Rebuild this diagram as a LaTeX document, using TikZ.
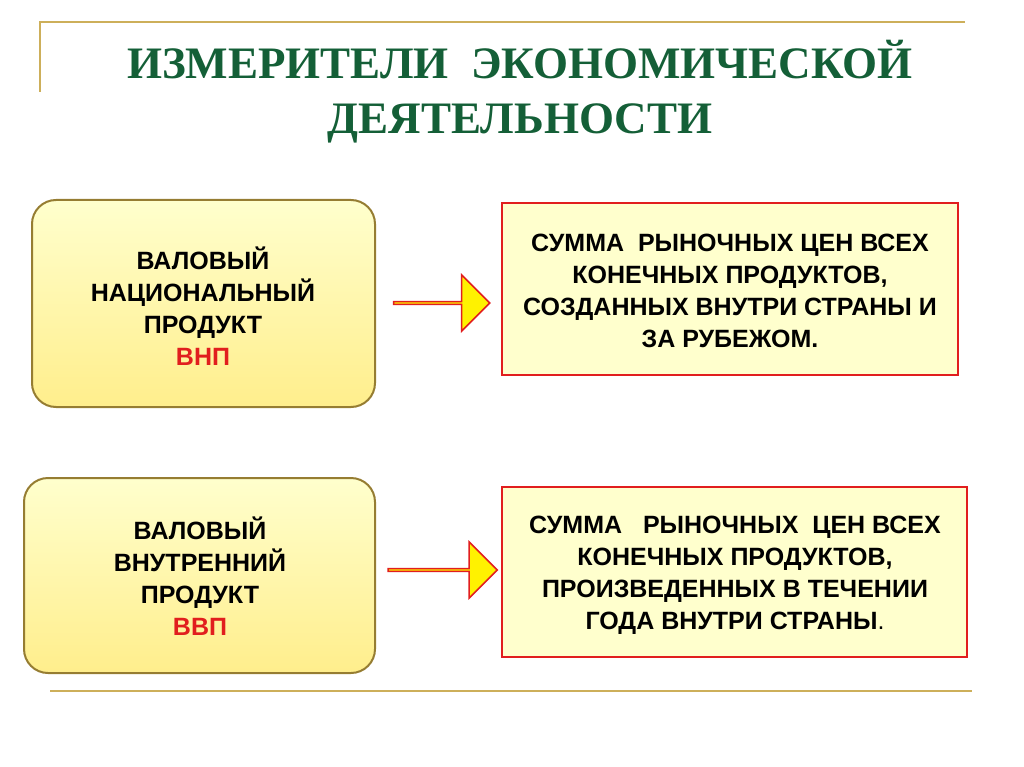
\documentclass[tikz,border=0pt]{standalone}
\usepackage{fontspec}
\setmainfont{Liberation Sans}
\newfontfamily\titlefont{Liberation Serif}
\usetikzlibrary{shapes.arrows}
\definecolor{goldline}{RGB}{205,175,90}
\definecolor{titlegreen}{RGB}{20,95,55}
\definecolor{boxedge}{RGB}{150,125,50}
\definecolor{boxred}{RGB}{225,30,30}
\definecolor{paleyellow}{RGB}{255,255,205}
\definecolor{deepyellow}{RGB}{255,238,140}
\tikzset{
  namebox/.style={draw=boxedge, line width=2pt, rounded corners=24pt,
    top color=paleyellow, bottom color=deepyellow},
  defbox/.style={draw=boxred, line width=2pt, fill=paleyellow},
  boxtext/.style={font=\fontsize{25}{32}\selectfont\bfseries, align=center},
  fatarrow/.style={single arrow, draw=boxred, fill=yellow, line width=1.5pt,
    single arrow head extend=14pt, minimum height=96pt, minimum width=56pt, inner sep=0pt}
}
\begin{document}
\begin{tikzpicture}[x=1pt,y=-1pt]
    \useasboundingbox (0,0) rectangle (1024,767);
    % frame lines
    \draw[goldline, line width=1.5pt] (40,92) -- (40,22) -- (965,22);
    \draw[goldline, line width=1.5pt] (50,691) -- (972,691);

    \node[titlegreen, font=\titlefont\fontsize{45}{55}\selectfont\bfseries, align=center] (title) at (520,92)
        {ИЗМЕРИТЕЛИ\ \ ЭКОНОМИЧЕСКОЙ\\ДЕЯТЕЛЬНОСТИ};

    % first row
    \draw[namebox] (32,200) rectangle (375,407);
    \node[boxtext] (gnp) at (203,306) {ВАЛОВЫЙ\\НАЦИОНАЛЬНЫЙ\\ПРОДУКТ\\\textcolor{boxred}{ВНП}};
    \node[fatarrow] (arrowA) at (441,303) {};
    \draw[defbox] (502,203) rectangle (958,375);
    \node[boxtext] (gnpdef) at (730,291) {СУММА\ \ РЫНОЧНЫХ ЦЕН ВСЕХ\\КОНЕЧНЫХ ПРОДУКТОВ,\\СОЗДАННЫХ ВНУТРИ СТРАНЫ И\\ЗА РУБЕЖОМ.};

    % second row
    \draw[namebox] (24,478) rectangle (375,673);
    \node[boxtext] (gdp) at (200,576) {ВАЛОВЫЙ\\ВНУТРЕННИЙ\\ПРОДУКТ\\\textcolor{boxred}{ВВП}};
    \node[fatarrow, minimum height=109pt] (arrowB) at (442,570) {};
    \draw[defbox] (502,487) rectangle (967,657);
    \node[boxtext] (gdpdef) at (735,575) {СУММА\ \ \ РЫНОЧНЫХ\ \ ЦЕН ВСЕХ\\КОНЕЧНЫХ ПРОДУКТОВ,\\ПРОИЗВЕДЕННЫХ В ТЕЧЕНИИ\\ГОДА ВНУТРИ СТРАНЫ{\mdseries .}};
\end{tikzpicture}
\end{document}
